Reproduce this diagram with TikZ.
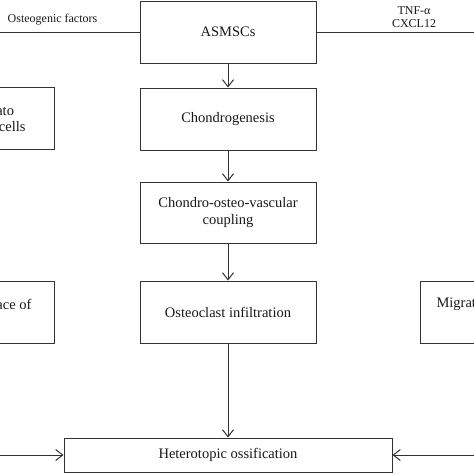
\documentclass[tikz,border=0pt]{standalone}
\usepackage{fontspec}
\setmainfont{Liberation Serif}
\usetikzlibrary{arrows.meta}
\begin{document}
\begin{tikzpicture}
[x=1pt, y=-1pt,
 box/.style={draw=black!80, fill=white, minimum width=176pt, minimum height=62pt,
   inner sep=0pt, align=center, font=\fontsize{14.5}{16.5}\selectfont},
 lbl/.style={inner sep=0pt, align=center, font=\fontsize{12}{13.5}\selectfont},
 >={Straight Barb[length=7pt,width=11pt]}, line width=1pt, draw=black!80, text=black!90]
\useasboundingbox (0,0) rectangle (474,474);
\clip (0,0) rectangle (474,474);
\node[box] (ASMSCs) at (228,32) {ASMSCs};
\node[box] (Chondro) at (228,119) {Chondrogenesis};
\node[box, minimum height=61pt] (Coupling) at (228,212.5) {Chondro-osteo-vascular\\coupling};
\node[box] (Osteoclast) at (228,312) {Osteoclast infiltration};
\node[box, minimum width=328pt, minimum height=34pt] (HO) at (228,455) {Heterotopic ossification};

% boxes cut by the edge
\node[box] (LeftA) at (-34,118.5) {};
\node[box] (LeftB) at (-34,312) {};
\node[box] (RightB) at (508,312) {};
\node[anchor=east, inner sep=0pt, font=\fontsize{14.5}{16.5}\selectfont] (atoText) at (14.5,111) {ato};
\node[anchor=east, inner sep=0pt, font=\fontsize{14.5}{16.5}\selectfont] (cellsText) at (26,127) {cells};
\node[anchor=east, inner sep=0pt, font=\fontsize{14.5}{16.5}\selectfont] (aceText) at (32,304) {ace of};
\node[anchor=west, inner sep=0pt, font=\fontsize{14.5}{16.5}\selectfont] (migrText) at (436,304) {Migrat};

\node[lbl] (Osteogenic) at (52.5,20) {Osteogenic factors};
\node[lbl] (TNF) at (414,17) {TNF-α\\CXCL12};

\coordinate (ofL) at (0,32);
\coordinate (tnfR) at (474,32);
\coordinate (hoL) at (0,455);
\coordinate (hoR) at (474,455);
\draw (ofL) -- (ASMSCs);
\draw (ASMSCs) -- (tnfR);
\draw[->] (ASMSCs) -- (Chondro);
\draw[->] (Chondro) -- (Coupling);
\draw[->] (Coupling) -- (Osteoclast);
\draw[->] (Osteoclast) -- (HO);
\draw[->] (hoL) -- (HO);
\draw[->] (hoR) -- (HO);
\end{tikzpicture}
\end{document}
